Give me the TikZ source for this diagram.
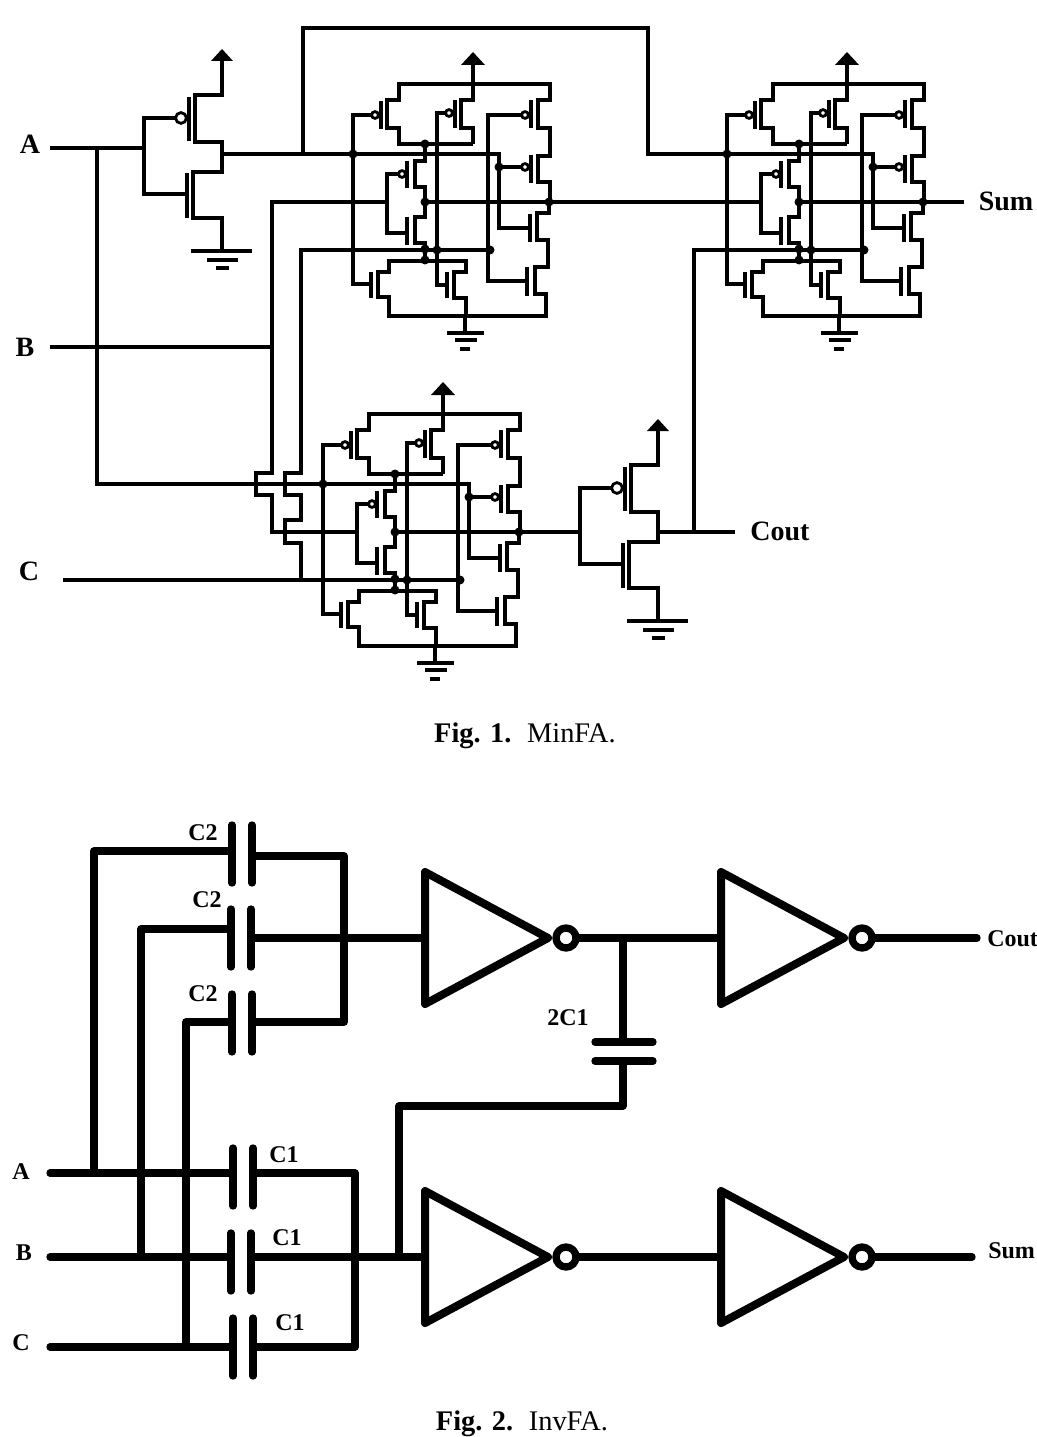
\documentclass[tikz,border=0pt]{standalone}
\usepackage{fontspec}
\setmainfont{Liberation Serif}
\usetikzlibrary{calc}

\tikzset{
	wire/.style={line width=3pt,line join=miter},
	fatwire/.style={line width=5.5pt,line join=round,line cap=round},
	gatebar/.style={line width=3.1pt},
	bubble/.style={line width=2.1pt,fill=white},
	label1/.style={font=\bfseries\fontsize{21}{25}\selectfont,inner sep=0},
	label2/.style={font=\bfseries\fontsize{18}{21}\selectfont,inner sep=0},
	caption/.style={font=\fontsize{21.3}{25}\selectfont,anchor=base,inner sep=0},
	fullblock/.pic={
		\coordinate (a-in) at (353,154);
		\coordinate (b-in) at (387,202);
		\coordinate (c-in) at (353,250);
		\coordinate (out) at (549,202);

		% supply and pull up
		\fill (461,65) -- (473,52) -- (485,65) -- cycle;
		\draw[wire] (473,62) -- (473,100) -- (461,100) -- (461,128) -- (473,128) -- (473,144);
		\draw[wire] (473,144) -- (399,144) -- (399,128) -- (387,128) -- (387,100) -- (399,100) -- (399,84)
			-- (550,84) -- (550,100) -- (538,100) -- (538,128) -- (550,128) -- (550,156)
			-- (538,156) -- (538,182) -- (550,182) -- (550,202);

		% middle stack
		\draw[wire] (425,144) -- (425,161) -- (415,161) -- (415,187) -- (425,187) -- (425,217)
			-- (415,217) -- (415,243) -- (425,243) -- (425,261);

		% pull down
		\draw[wire] (549,202) -- (549,213) -- (537,213) -- (537,240) -- (548,240) -- (548,267)
			-- (535,267) -- (535,294) -- (546,294) -- (546,316) -- (389,316) -- (389,297)
			-- (378,297) -- (378,272) -- (389,272) -- (389,261) -- (466,261) -- (466,272)
			-- (454,272) -- (454,298) -- (466,298) -- (466,316);

		% gates
		\draw[wire] (371,115) -- (353,115) -- (353,284) -- (371,284);
		\draw[wire] (446,113) -- (437,113) -- (437,285) -- (447,285);
		\draw[wire] (521,115) -- (488,115) -- (488,281) -- (527,281);
		\draw[wire] (398,174) -- (387,174) -- (387,233) -- (407,233);
		\draw[wire] (521,167) -- (499,167);
		\draw[gatebar] (381,101) -- (381,129) (455,100) -- (455,128) (531,100) -- (531,128)
			(531,155) -- (531,183) (407,161) -- (407,188) (407,217) -- (407,245)
			(530,214) -- (530,242) (527,267) -- (527,296) (371,272) -- (371,298) (447,272) -- (447,298);
		\foreach \bx/\by in {375/115,449/113,525/115,525/167,402/174}
			\draw[bubble] (\bx,\by) circle (3.4);

		% through lines
		\draw[wire] (a-in) -- (499,154) -- (499,228) -- (530,228);
		\draw[wire] (c-in) -- (490,250);
		\draw[wire] (425,202) -- (out);
		\foreach \dx/\dy in {425/144,425/202,425/249,437/250,490/250,425/260,353/154,499/167,549/202}
			\fill (\dx,\dy) circle (4.5);

		% ground
		\draw[wire] (465,316) -- (465,333);
		\draw[wire] (447,333) -- (484,333) (455,340) -- (477,340) (460,349) -- (470,349);
	},
	mosinv/.pic={
		\coordinate (vss) at (222,251);
		\fill (211,61) -- (222,49) -- (233,61) -- cycle;
		\draw[wire] (222,58) -- (222,95) -- (195,95) -- (195,142) -- (222,142) -- (222,172)
			-- (193,172) -- (193,218) -- (222,218) -- (vss);
		\draw[wire] (175,118) -- (144,118) -- (144,194) -- (187,194);
		\draw[gatebar] (189,97) -- (189,141) (187,173) -- (187,218);
		\draw[bubble] (181,118) circle (5.4);
		\draw[wire] (191,251) -- (252,251) (207,260) -- (238,260) (216,268) -- (229,268);
	},
	notgate/.pic={
		\coordinate (in) at (0,0);
		\coordinate (out) at (151,0);
		\draw[fatwire,line width=6pt] (0,-66) -- (123,0) -- (0,66) -- cycle;
		\draw[fatwire,fill=white] (141,0) circle (10);
	},
	capv/.pic={
		\draw[fatwire] (-10,-29) -- (-10,29) (10,-29) -- (10,29);
	},
}

\begin{document}
\begin{tikzpicture}[x=0.75pt,y=-0.75pt]
	\useasboundingbox (0,0) rectangle (1036,1437);

	%%% MinFA
	\pic (inv-a-) at (0,0) {mosinv};
	\pic (inv-b-) at (436,370) {mosinv};
	\pic (mid-) at (0,0) {fullblock};
	\pic (right-) at (374,0) {fullblock};
	\pic (low-) at (-30,330) {fullblock};

	\coordinate (a-pin) at (50,148);
	\coordinate (b-pin) at (50,347);
	\coordinate (c-pin) at (63,580);
	\coordinate (a-tap) at (97,148);
	\coordinate (b-tap) at (272,347);
	\coordinate (inv-a-out) at (222,154);
	\coordinate (inv-b-in) at (580,532);
	\coordinate (inv-b-out) at (659,532);
	\coordinate (loop-tap) at (303,154);
	\coordinate (cout-tap) at (694,532);
	\coordinate (sum-end) at (964,202);
	\coordinate (cout-end) at (735,532);

	\draw[wire] (a-pin) -- (144,148);
	\draw[wire] (a-tap) |- (low-a-in);
	\draw[wire] (inv-a-out) -- (mid-a-in);
	\draw[wire] (loop-tap) -- (303,28) -- (648,28) -- (648,154) -- (right-a-in);
	\draw[wire] (b-pin) -- (b-tap);
	\draw[wire] (mid-b-in) -- (272,202) -- (272,473) -- (256,473) -- (256,495) -- (272,495)
		-- (272,532) -- (low-b-in);
	\draw[wire] (mid-c-in) -- (301,250) -- (301,473) -- (285,473) -- (285,495) -- (301,495)
		-- (301,520) -- (285,520) -- (285,543) -- (301,543) -- (301,580);
	\draw[wire] (c-pin) -- (low-c-in);
	\draw[wire] (mid-out) -- (right-b-in);
	\draw[wire] (right-out) -- (sum-end);
	\draw[wire] (low-out) -- (inv-b-in);
	\draw[wire] (inv-b-out) -- (cout-end);
	\draw[wire] (cout-tap) -- (694,250) -- (right-c-in);

	\node[label1] (lab-a) at (30,144) {A};
	\node[label1] (lab-b) at (25,347) {B};
	\node[label1] (lab-c) at (29,571) {C};
	\node[label1] (lab-sum) at (1006,201) {Sum};
	\node[label1] (lab-cout) at (780,531) {Cout};
	\node[caption] (cap-one) at (525,742) {\textbf{Fig. 1.}\hspace{0.55em}MinFA.};

	%%% InvFA
	\pic (c2a-) at (242,854) {capv};
	\pic (c2b-) at (241,938) {capv};
	\pic (c2c-) at (242,1023) {capv};
	\pic (c1a-) at (243,1177) {capv};
	\pic (c1b-) at (241,1262) {capv};
	\pic (c1c-) at (243,1347) {capv};
	\pic (not-a-) at (425,938) {notgate};
	\pic (not-b-) at (721,938) {notgate};
	\pic (not-c-) at (425,1257) {notgate};
	\pic (not-d-) at (721,1257) {notgate};

	\coordinate (in-a) at (50,1173);
	\coordinate (in-b) at (50,1257);
	\coordinate (in-c) at (50,1347);
	\coordinate (cap-top) at (623,1042);
	\coordinate (cap-bot) at (623,1061);

	\draw[fatwire] (in-a) -- (232,1173);
	\draw[fatwire] (in-b) -- (231,1257);
	\draw[fatwire] (in-c) -- (233,1347);
	\draw[fatwire] (94,1173) -- (94,851) -- (232,851);
	\draw[fatwire] (141,1257) -- (141,929) -- (231,929);
	\draw[fatwire] (186,1347) -- (186,1022) -- (232,1022);
	\draw[fatwire] (252,856) -- (344,856) -- (344,1022) -- (252,1022);
	\draw[fatwire] (251,938) -- (not-a-in);
	\draw[fatwire] (253,1173) -- (355,1173) -- (355,1347) -- (253,1347);
	\draw[fatwire] (251,1257) -- (not-c-in);
	\draw[fatwire] (399,1257) -- (399,1106) -- (623,1106) -- (cap-bot);
	\draw[fatwire] (not-a-out) -- (not-b-in);
	\draw[fatwire] (not-c-out) -- (not-d-in);
	\draw[fatwire] (623,938) -- (cap-top);
	\draw[fatwire] (not-b-out) -- (977,938);
	\draw[fatwire] (not-d-out) -- (972,1257);
	\draw[fatwire] (595,1042) -- (653,1042) (595,1061) -- (653,1061);

	\node[label2] (lab-c2a) at (203,833) {C2};
	\node[label2] (lab-c2b) at (207,900) {C2};
	\node[label2] (lab-c2c) at (203,994) {C2};
	\node[label2] (lab-c1a) at (284,1155) {C1};
	\node[label2] (lab-c1b) at (287,1238) {C1};
	\node[label2] (lab-c1c) at (290,1323) {C1};
	\node[label2] (lab-2c1) at (568,1018) {2C1};
	\node[label2] (lab-ina) at (21,1172) {A};
	\node[label2] (lab-inb) at (24,1253) {B};
	\node[label2] (lab-inc) at (21,1343) {C};
	\node[label2,anchor=west] (lab-cout2) at (987,939) {Cout};
	\node[label2,anchor=west] (lab-sum2) at (988,1251) {Sum};
	\node[caption] (cap-two) at (522,1430) {\textbf{Fig. 2.}\hspace{0.55em}InvFA.};
\end{tikzpicture}
\end{document}
